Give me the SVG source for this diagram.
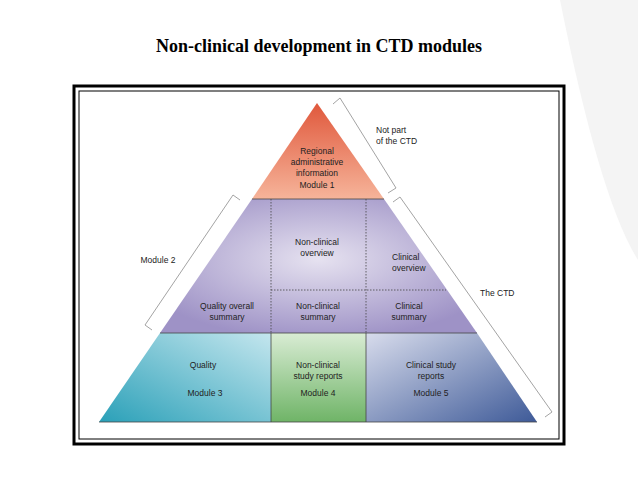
<svg xmlns="http://www.w3.org/2000/svg" width="638" height="479" viewBox="0 0 638 479">
<defs>
<linearGradient id="g1" x1="0" y1="0" x2="0" y2="1"><stop offset="0" stop-color="#e0583c"/><stop offset="1" stop-color="#f6b49a"/></linearGradient>
<radialGradient id="g2" cx="0.5" cy="0.45" r="0.6"><stop offset="0" stop-color="#e6e2f0"/><stop offset="1" stop-color="#9e92c6"/></radialGradient>
<linearGradient id="g3" x1="0" y1="1" x2="1" y2="0"><stop offset="0" stop-color="#2aa0b8"/><stop offset="1" stop-color="#c4e6ee"/></linearGradient>
<linearGradient id="g4" x1="0" y1="1" x2="0" y2="0"><stop offset="0" stop-color="#6fb467"/><stop offset="1" stop-color="#d9ecd4"/></linearGradient>
<linearGradient id="g5" x1="0" y1="0" x2="1" y2="1"><stop offset="0" stop-color="#d8dcec"/><stop offset="1" stop-color="#3e5a98"/></linearGradient>
</defs>
<style>
text{font-family:"Liberation Sans",Arial,sans-serif;font-size:8.5px;fill:#222;text-anchor:middle}
.br{fill:none;stroke:#999;stroke-width:0.9}
.dv{stroke:#444;stroke-width:0.8;stroke-dasharray:1.5,1.5;fill:none}
.sv{stroke:#444;stroke-width:0.8;fill:none}
</style>
<rect width="638" height="479" fill="#fff"/>
<path d="M560 0 Q600 200 638 260 L638 0 Z" fill="#f4f4f4"/>
<text x="319" y="52" style="font-family:'Liberation Serif',serif;font-size:18px;font-weight:bold;fill:#000">Non-clinical development in CTD modules</text>
<rect x="74" y="86" width="490" height="358" fill="#fff" stroke="#000" stroke-width="3"/>
<rect x="79" y="91" width="480" height="348" fill="none" stroke="#000" stroke-width="1"/>
<g id="m1"><path d="M317 103 L384 199 L252 199 Z" fill="url(#g1)"/>
<text x="317" y="154">Regional</text><text x="317" y="165">administrative</text><text x="317" y="176">information</text><text x="317" y="188">Module 1</text></g>
<g id="m2"><path d="M252 199 L384 199 L477 333 L160 333 Z" fill="url(#g2)"/>
<text x="317" y="245">Non-clinical</text><text x="317" y="256">overview</text>
<text x="392" y="260" style="text-anchor:start">Clinical</text><text x="392" y="271" style="text-anchor:start">overview</text>
<text x="227" y="309">Quality overall</text><text x="227" y="320">summary</text>
<text x="318" y="309">Non-clinical</text><text x="318" y="320">summary</text>
<text x="409" y="309">Clinical</text><text x="409" y="320">summary</text></g>
<g id="m3"><path d="M160 333 L271 333 L271 422 L99 422 Z" fill="url(#g3)"/><text x="203" y="368">Quality</text><text x="205" y="396">Module 3</text></g>
<g id="m4"><rect x="271" y="333" width="95" height="89" fill="url(#g4)"/><text x="318" y="368">Non-clinical</text><text x="318" y="379">study reports</text><text x="318" y="396">Module 4</text></g>
<g id="m5"><path d="M366 333 L477 333 L537 422 L366 422 Z" fill="url(#g5)"/><text x="431" y="368">Clinical study</text><text x="431" y="379">reports</text><text x="431" y="396">Module 5</text></g>
<g id="connectors">
<path class="dv" d="M271 199 V333 M366 199 V333 M271 290 H446"/>
<path class="sv" d="M252 199 H384 M160 333 H477 M271 333 V422 M366 333 V422 M99 422 H537"/>
<path class="br" d="M333 104 L340 98 L396 188 L388 193"/>
<path class="br" d="M393 202 L400 197 L552 412 L545 417"/>
<path class="br" d="M240 200 L233 195 L145 325 L152 330"/>
</g>
<g id="labels">
<text x="376" y="133" style="text-anchor:start">Not part</text><text x="376" y="144" style="text-anchor:start">of the CTD</text>
<text x="480" y="296" style="text-anchor:start">The CTD</text>
<text x="158" y="263">Module 2</text>
</g>
</svg>
